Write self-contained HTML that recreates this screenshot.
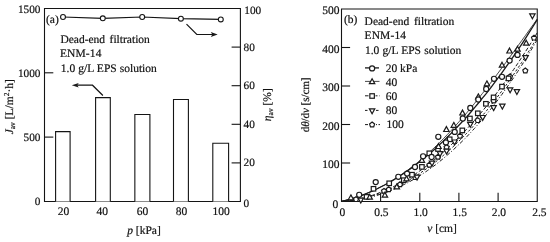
<!DOCTYPE html>
<html><head><meta charset="utf-8"><title>Figure</title>
<style>html,body{margin:0;padding:0;background:#fff}svg{display:block}text{font-family:"Liberation Serif","Times New Roman",serif;fill:#111;stroke:#111;stroke-width:0.2px;text-rendering:geometricPrecision}</style></head><body>
<svg width="550" height="242" viewBox="0 0 550 242">
<rect width="550" height="242" fill="#fff"/>
<g fill="none" stroke="#141414" stroke-width="1.1">
<path d="M44.5 201.45V8.5H240.4V201.45Z"/>
<path d="M44.5 137.1h8.8"/>
<path d="M44.5 72.8h8.8"/>
<path d="M240.4 162.9h-8.8"/>
<path d="M240.4 124.3h-8.8"/>
<path d="M240.4 85.7h-8.8"/>
<path d="M240.4 47.1h-8.8"/>
<path d="M55.6 201.45V131.6H70.1V201.45" fill="#fff"/>
<path d="M95.6 201.45V97.65H110.3V201.45" fill="#fff"/>
<path d="M134.85 201.45V114.5H149.9V201.45" fill="#fff"/>
<path d="M173.5 201.45V99.45H188.4V201.45" fill="#fff"/>
<path d="M212.8 201.45V143.2H228.6V201.45" fill="#fff"/>
<path stroke-width="1.2" d="M63.0 17.0 L102.8 18.3 L142.2 17.0 L180.9 18.7 L220.8 19.4"/>
<circle cx="63.0" cy="17.0" r="2.45" fill="#fff"/>
<circle cx="102.8" cy="18.3" r="2.45" fill="#fff"/>
<circle cx="142.2" cy="17.0" r="2.45" fill="#fff"/>
<circle cx="180.9" cy="18.7" r="2.45" fill="#fff"/>
<circle cx="220.8" cy="19.4" r="2.45" fill="#fff"/>
<path stroke-width="1.2" d="M186.5 24.2L196.8 34.5H214"/>
<path stroke-width="1.2" d="M102.9 95.5L92.5 85.2H76"/>
</g>
<g fill="#1a1a1a" stroke="none">
<path d="M217.7 34.5l-6.9-2.4 1.5 2.4-1.5 2.4z"/>
<path d="M71.8 85.2l6.9-2.3-1.5 2.3 1.5 2.3z"/>
</g>
<g font-size="11.5">
<text x="46" y="22.5">(a)</text>
<text x="60.4" y="43">Dead-end</text><text x="109.6" y="43">filtration</text>
<text x="59.9" y="56.7" letter-spacing="0.12">ENM-14</text>
<text x="60.8" y="71.6" word-spacing="0.2">1.0 g/L EPS solution</text>
<text font-size="11.3" x="40.5" y="205.4" text-anchor="end">0</text>
<text font-size="11.3" x="40.5" y="141.1" text-anchor="end">500</text>
<text font-size="11.3" x="40.5" y="76.9" text-anchor="end">1000</text>
<text font-size="11.3" x="40.5" y="12.8" text-anchor="end">1500</text>
<text font-size="11.3" x="243.6" y="206.6">0</text>
<text font-size="11.3" x="243.6" y="166.4">20</text>
<text font-size="11.3" x="243.6" y="127.9">40</text>
<text font-size="11.3" x="243.6" y="89.4">60</text>
<text font-size="11.3" x="243.6" y="50.9">80</text>
<text font-size="11.3" x="244.3" y="13.6">100</text>
<text x="63.5" y="214.7" text-anchor="middle">20</text>
<text x="102.2" y="214.7" text-anchor="middle">40</text>
<text x="142.5" y="214.7" text-anchor="middle">60</text>
<text x="181.5" y="214.7" text-anchor="middle">80</text>
<text x="221" y="214.7" text-anchor="middle">100</text>
<text x="144" y="234" text-anchor="middle"><tspan font-style="italic">p</tspan> [kPa]</text>
<text transform="translate(12.7,106.7) rotate(-90)" text-anchor="middle"><tspan font-style="italic">J</tspan><tspan font-size="7.5" dy="2">av</tspan><tspan dy="-2"> [L/m</tspan><tspan font-size="7.5" dy="-3.5">2</tspan><tspan dy="3.5">·h]</tspan></text>
<text transform="translate(270.6,104.7) rotate(-90)" text-anchor="middle"><tspan font-style="italic">η</tspan><tspan font-size="7.5" dy="2">av</tspan><tspan dy="-2"> [%]</tspan></text>
<text x="344" y="22.9">(b)</text>
<text x="364.6" y="25.4">Dead-end</text><text x="414" y="25.4">filtration</text>
<text x="364.6" y="39.4" letter-spacing="0.1">ENM-14</text>
<text x="364.9" y="53.6" word-spacing="0.3">1.0 g/L EPS solution</text>
<text font-size="11.5" x="338.3" y="208.0" text-anchor="end">0</text>
<text font-size="11.5" x="339.4" y="167.9" text-anchor="end">100</text>
<text font-size="11.5" x="339.4" y="129.5" text-anchor="end">200</text>
<text font-size="11.5" x="339.4" y="91.1" text-anchor="end">300</text>
<text font-size="11.5" x="339.4" y="52.7" text-anchor="end">400</text>
<text font-size="11.5" x="339.4" y="14.4" text-anchor="end">500</text>
<text x="342.3" y="215.6" text-anchor="middle">0</text>
<text x="381.4" y="215.6" text-anchor="middle">0.5</text>
<text x="420.6" y="215.6" text-anchor="middle">1.0</text>
<text x="459.8" y="215.6" text-anchor="middle">1.5</text>
<text x="498.9" y="215.6" text-anchor="middle">2.0</text>
<text x="539.4" y="215.6" text-anchor="middle">2.5</text>
<text x="442" y="232" text-anchor="middle"><tspan font-style="italic">v</tspan> [cm]</text>
<text transform="translate(308.6,104.9) rotate(-90)" text-anchor="middle" font-size="11.2" letter-spacing="-0.12">d<tspan font-style="italic">θ</tspan>/d<tspan font-style="italic">v</tspan> [s/cm]</text>
<text x="385.7" y="71.7">20 kPa</text>
<text x="385.7" y="85.8">40</text>
<text x="385.7" y="99.8">60</text>
<text x="385.7" y="113.9">80</text>
<text x="386.4" y="127.9">100</text>
</g>
<g fill="none" stroke="#141414" stroke-width="1.1">
<path d="M341.5 201.45V9.05H537.25V201.45Z"/>
<path d="M341.5 163.0h8.6"/>
<path d="M341.5 124.5h8.6"/>
<path d="M341.5 86.0h8.6"/>
<path d="M341.5 47.5h8.6"/>
<path d="M380.6 201.45v-8.6"/>
<path d="M419.8 201.45v-8.6"/>
<path d="M458.9 201.45v-8.6"/>
<path d="M498.1 201.45v-8.6"/>
</g>
<g fill="none" stroke="#1a1a1a">
<path stroke-width="1.3" d="M341.5 201.4 L345.4 200.5 L349.3 199.4 L353.2 198.3 L357.2 197.0 L361.1 195.6 L365.0 194.1 L368.9 192.5 L372.8 190.8 L376.7 189.0 L380.6 187.0 L384.6 185.0 L388.5 182.8 L392.4 180.6 L396.3 178.2 L400.2 175.7 L404.1 173.1 L408.1 170.4 L412.0 167.6 L415.9 164.7 L419.8 161.6 L423.7 158.5 L427.6 155.2 L431.5 151.9 L435.5 148.4 L439.4 144.8 L443.3 141.1 L447.2 137.3 L451.1 133.4 L455.0 129.4 L458.9 125.3 L462.9 121.0 L466.8 116.7 L470.7 112.2 L474.6 107.6 L478.5 103.0 L482.4 98.2 L486.4 93.3 L490.3 88.3 L494.2 83.2 L498.1 77.9 L502.0 72.6 L505.9 67.1 L509.8 61.6 L513.8 55.9 L517.7 50.2 L521.6 44.3 L525.5 38.3 L529.4 32.2 L533.3 26.0 L537.2 19.6"/>
<path stroke-width="0.8" d="M341.5 201.4 L345.4 200.5 L349.3 199.4 L353.2 198.2 L357.2 197.0 L361.1 195.6 L365.0 194.1 L368.9 192.5 L372.8 190.8 L376.7 189.0 L380.6 187.0 L384.6 185.0 L388.5 182.8 L392.4 180.4 L396.3 178.0 L400.2 175.4 L404.1 172.7 L408.1 169.9 L412.0 166.9 L415.9 163.9 L419.8 160.7 L423.7 157.3 L427.6 153.9 L431.5 150.3 L435.5 146.6 L439.4 142.7 L443.3 138.8 L447.2 134.7 L451.1 130.6 L455.0 126.3 L458.9 121.9 L462.9 117.4 L466.8 112.8 L470.7 108.1 L474.6 103.3 L478.5 98.4 L482.4 93.5 L486.4 88.5 L490.3 83.4 L494.2 78.2 L498.1 73.0 L502.0 67.7 L505.9 62.4 L509.8 57.0 L513.8 51.6 L517.7 46.2 L521.6 40.8 L525.5 35.4 L529.4 29.9 L533.3 24.5 L537.2 19.1"/>
<path stroke-width="1" stroke-dasharray="4 2" d="M341.5 201.4 L345.4 201.1 L349.3 200.6 L353.2 200.0 L357.2 199.3 L361.1 198.4 L365.0 197.5 L368.9 196.4 L372.8 195.2 L376.7 193.8 L380.6 192.3 L384.6 190.8 L388.5 189.1 L392.4 187.2 L396.3 185.3 L400.2 183.2 L404.1 181.0 L408.1 178.7 L412.0 176.2 L415.9 173.6 L419.8 170.9 L423.7 168.1 L427.6 165.2 L431.5 162.1 L435.5 158.9 L439.4 155.6 L443.3 152.2 L447.2 148.6 L451.1 144.9 L455.0 141.1 L458.9 137.2 L462.9 133.2 L466.8 129.0 L470.7 124.7 L474.6 120.3 L478.5 115.7 L482.4 111.1 L486.4 106.3 L490.3 101.4 L494.2 96.3 L498.1 91.2 L502.0 85.9 L505.9 80.5 L509.8 75.0 L513.8 69.3 L517.7 63.5 L521.6 57.6 L525.5 51.6 L529.4 45.5 L533.3 39.2 L537.2 32.8"/>
<path stroke-width="1" stroke-dasharray="2.5 2" d="M341.5 201.4 L345.4 201.1 L349.3 200.7 L353.2 200.2 L357.2 199.6 L361.1 198.8 L365.0 197.9 L368.9 196.9 L372.8 195.8 L376.7 194.6 L380.6 193.3 L384.6 191.8 L388.5 190.2 L392.4 188.6 L396.3 186.7 L400.2 184.8 L404.1 182.8 L408.1 180.6 L412.0 178.3 L415.9 175.9 L419.8 173.4 L423.7 170.7 L427.6 167.9 L431.5 165.0 L435.5 162.0 L439.4 158.8 L443.3 155.5 L447.2 152.1 L451.1 148.6 L455.0 144.9 L458.9 141.1 L462.9 137.2 L466.8 133.2 L470.7 129.0 L474.6 124.7 L478.5 120.2 L482.4 115.6 L486.4 110.9 L490.3 106.1 L494.2 101.1 L498.1 96.0 L502.0 90.8 L505.9 85.4 L509.8 79.9 L513.8 74.2 L517.7 68.4 L521.6 62.5 L525.5 56.5 L529.4 50.3 L533.3 43.9 L537.2 37.4"/>
<path stroke-width="1" stroke-dasharray="4 2 1 2" d="M341.5 201.4 L345.4 201.2 L349.3 200.9 L353.2 200.4 L357.2 199.9 L361.1 199.2 L365.0 198.4 L368.9 197.5 L372.8 196.6 L376.7 195.5 L380.6 194.2 L384.6 192.9 L388.5 191.5 L392.4 189.9 L396.3 188.2 L400.2 186.4 L404.1 184.5 L408.1 182.5 L412.0 180.3 L415.9 178.1 L419.8 175.7 L423.7 173.1 L427.6 170.5 L431.5 167.7 L435.5 164.8 L439.4 161.7 L443.3 158.5 L447.2 155.2 L451.1 151.8 L455.0 148.2 L458.9 144.5 L462.9 140.6 L466.8 136.7 L470.7 132.5 L474.6 128.3 L478.5 123.8 L482.4 119.3 L486.4 114.6 L490.3 109.7 L494.2 104.7 L498.1 99.6 L502.0 94.3 L505.9 88.8 L509.8 83.2 L513.8 77.5 L517.7 71.6 L521.6 65.5 L525.5 59.3 L529.4 52.9 L533.3 46.4 L537.2 39.7"/>
<path stroke-width="1.3" d="M365 67.9H379"/>
<path stroke-width="0.8" d="M365 81.4H379.5"/>
<path stroke-width="1" stroke-dasharray="3.5 7 2 1.5" d="M365 95.8H379.5"/>
<path stroke-width="1" stroke-dasharray="2.5 8.5" d="M365 110.4H379"/>
<path stroke-width="1" stroke-dasharray="3 8 1 1.5" d="M365 124.6H380"/>
</g>
<g fill="#fff" stroke="#1a1a1a" stroke-width="1.2">
<path d="M356.0 196.8 L358.5 198.6 L357.6 201.5 L354.4 201.5 L353.5 198.6Z"/>
<path d="M384.0 188.4 L386.5 190.3 L385.6 193.2 L382.4 193.2 L381.5 190.3Z"/>
<path d="M388.7 186.8 L391.2 188.7 L390.3 191.6 L387.1 191.6 L386.2 188.7Z"/>
<path d="M400.0 181.8 L402.5 183.7 L401.6 186.6 L398.4 186.6 L397.5 183.7Z"/>
<path d="M415.1 174.8 L417.6 176.6 L416.7 179.5 L413.5 179.5 L412.6 176.6Z"/>
<path d="M429.4 162.3 L431.9 164.2 L431.0 167.1 L427.8 167.1 L426.9 164.2Z"/>
<path d="M438.0 154.3 L440.5 156.2 L439.6 159.1 L436.4 159.1 L435.5 156.2Z"/>
<path d="M446.6 144.7 L449.1 146.5 L448.2 149.4 L445.0 149.4 L444.1 146.5Z"/>
<path d="M460.0 133.3 L462.5 135.2 L461.6 138.1 L458.4 138.1 L457.5 135.2Z"/>
<path d="M477.7 117.8 L480.2 119.6 L479.3 122.5 L476.1 122.5 L475.2 119.6Z"/>
<path d="M493.6 98.0 L496.1 99.9 L495.2 102.8 L492.0 102.8 L491.1 99.9Z"/>
<path d="M510.0 73.9 L512.5 75.8 L511.6 78.7 L508.4 78.7 L507.5 75.8Z"/>
<path d="M525.3 68.1 L527.8 70.0 L526.9 72.9 L523.7 72.9 L522.8 70.0Z"/>
<path d="M534.0 35.2 L536.5 37.1 L535.6 40.0 L532.4 40.0 L531.5 37.1Z"/>
<path d="M360.8 203.0L363.5 198.1H358.1Z"/>
<path d="M417.0 180.1L419.7 175.2H414.3Z"/>
<path d="M432.0 166.1L434.7 161.2H429.3Z"/>
<path d="M440.0 156.6L442.7 151.7H437.3Z"/>
<path d="M446.6 154.1L449.3 149.2H443.9Z"/>
<path d="M454.6 144.9L457.3 140.0H451.9Z"/>
<path d="M470.3 127.2L473.0 122.3H467.6Z"/>
<path d="M482.7 120.4L485.4 115.5H480.0Z"/>
<path d="M493.6 110.6L496.3 105.7H490.9Z"/>
<path d="M502.3 109.1L505.0 104.2H499.6Z"/>
<path d="M510.1 92.7L512.8 87.8H507.4Z"/>
<path d="M516.9 94.5L519.6 89.6H514.2Z"/>
<path d="M525.6 60.5L528.3 55.6H522.9Z"/>
<path d="M532.4 18.8L535.1 13.9H529.7Z"/>
<rect x="364.35" y="194.65" width="4.5" height="4.5"/>
<rect x="371.25" y="186.55" width="4.5" height="4.5"/>
<rect x="386.95" y="181.05" width="4.5" height="4.5"/>
<rect x="401.55" y="177.95" width="4.5" height="4.5"/>
<rect x="409.75" y="172.45" width="4.5" height="4.5"/>
<rect x="419.65" y="164.65" width="4.5" height="4.5"/>
<rect x="427.05" y="151.05" width="4.5" height="4.5"/>
<rect x="435.75" y="146.75" width="4.5" height="4.5"/>
<rect x="447.45" y="137.05" width="4.5" height="4.5"/>
<rect x="460.05" y="128.15" width="4.5" height="4.5"/>
<rect x="467.65" y="116.25" width="4.5" height="4.5"/>
<rect x="475.55" y="111.05" width="4.5" height="4.5"/>
<rect x="483.65" y="101.55" width="4.5" height="4.5"/>
<rect x="491.35" y="95.15" width="4.5" height="4.5"/>
<rect x="499.75" y="84.35" width="4.5" height="4.5"/>
<rect x="506.25" y="76.15" width="4.5" height="4.5"/>
<path d="M350.9 194.9L353.6 199.8H348.2Z"/>
<path d="M369.7 194.2L372.4 199.1H367.0Z"/>
<path d="M384.9 192.2L387.6 197.1H382.2Z"/>
<path d="M396.8 183.9L399.5 188.8H394.1Z"/>
<path d="M406.5 175.9L409.2 180.8H403.8Z"/>
<path d="M421.9 157.4L424.6 162.3H419.2Z"/>
<path d="M438.5 143.6L441.2 148.5H435.8Z"/>
<path d="M446.4 126.6L449.1 131.5H443.7Z"/>
<path d="M453.8 122.4L456.5 127.3H451.1Z"/>
<path d="M462.5 110.1L465.2 115.0H459.8Z"/>
<path d="M478.3 93.9L481.0 98.8H475.6Z"/>
<path d="M486.9 80.9L489.6 85.8H484.2Z"/>
<path d="M502.0 62.3L504.7 67.2H499.3Z"/>
<path d="M509.5 48.1L512.2 53.0H506.8Z"/>
<path d="M517.5 46.2L520.2 51.1H514.8Z"/>
<path d="M526.2 40.3L528.9 45.2H523.5Z"/>
<circle cx="359.2" cy="194.8" r="2.55"/>
<circle cx="375.7" cy="182.1" r="2.55"/>
<circle cx="398.3" cy="176.8" r="2.55"/>
<circle cx="407.1" cy="173.6" r="2.55"/>
<circle cx="415.0" cy="167.0" r="2.55"/>
<circle cx="423.1" cy="156.3" r="2.55"/>
<circle cx="431.6" cy="157.0" r="2.55"/>
<circle cx="438.3" cy="136.8" r="2.55"/>
<circle cx="445.9" cy="142.4" r="2.55"/>
<circle cx="454.7" cy="131.9" r="2.55"/>
<circle cx="462.8" cy="118.5" r="2.55"/>
<circle cx="470.3" cy="108.0" r="2.55"/>
<circle cx="478.3" cy="99.5" r="2.55"/>
<circle cx="486.2" cy="89.0" r="2.55"/>
<circle cx="494.0" cy="78.8" r="2.55"/>
<circle cx="502.0" cy="76.8" r="2.55"/>
<circle cx="509.6" cy="60.6" r="2.55"/>
<circle cx="517.5" cy="54.9" r="2.55"/>
<circle cx="372.1" cy="68.4" r="2.55"/>
<path d="M372.1 78.8L374.8 83.7H369.4Z"/>
<rect x="369.85" y="93.75" width="4.5" height="4.5"/>
<path d="M372.1 113.7L374.8 108.8H369.4Z"/>
<path d="M372.1 122.1 L374.6 124.0 L373.7 126.9 L370.5 126.9 L369.6 124.0Z"/>
</g>
</svg></body></html>
